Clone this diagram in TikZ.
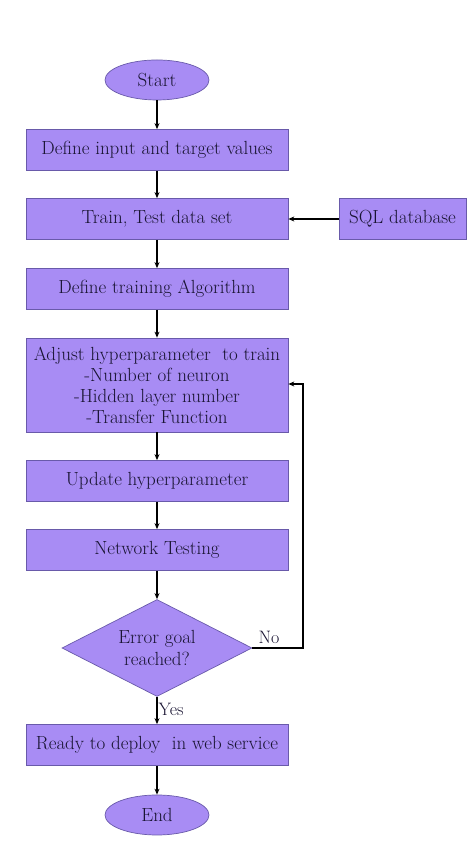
\documentclass[tikz,border=0pt]{standalone}
\usetikzlibrary{shapes.geometric,arrows.meta}
\definecolor{boxfill}{RGB}{168,140,244}
\definecolor{boxline}{RGB}{105,90,170}
\definecolor{txt}{RGB}{25,20,50}
\begin{document}
\begin{tikzpicture}[x=1pt,y=1pt,
  proc/.style={rectangle,draw=boxline,fill=boxfill,line width=0.7pt,minimum width=262pt,minimum height=41pt,font=\fontsize{19}{21}\selectfont,text=txt,align=center,inner sep=2pt},
  term/.style={ellipse,draw=boxline,fill=boxfill,line width=0.7pt,minimum width=104pt,minimum height=40pt,font=\fontsize{19}{21}\selectfont,text=txt,inner sep=0pt},
  dec/.style={diamond,draw=boxline,fill=boxfill,line width=0.7pt,minimum width=190pt,minimum height=97pt,aspect=2,font=\fontsize{19}{22}\selectfont,text=txt,align=center,inner sep=0pt},
  lbl/.style={font=\fontsize{18}{20}\selectfont,text=txt,inner sep=1pt},
  arr/.style={-{Stealth[length=6pt,width=5pt]},line width=1.4pt,black}]
\useasboundingbox (0,0) rectangle (474,842);
\node[term] (start) at (157,762) {Start};
\node[proc] (b1) at (157,692) {Define input and target values};
\node[proc] (b2) at (157,623) {Train, Test data set};
\node[proc,minimum width=127pt] (sql) at (402.5,623) {SQL database};
\node[proc] (b3) at (157,553) {Define training Algorithm};
\node[proc,minimum height=94pt] (b4) at (157,457) {Adjust hyperparameter\ \ to train\\-Number of neuron\\-Hidden layer number\\-Transfer Function};
\node[proc] (b5) at (157,361) {Update hyperparameter};
\node[proc] (b6) at (157,292) {Network Testing};
\node[dec] (d) at (157,194) {Error goal\\reached?};
\node[proc] (b7) at (157,97) {Ready to deploy\ \ in web service};
\node[term] (end) at (157,27) {End};
\coordinate (c1) at (303,194);
\coordinate (c2) at (303,458);
\draw[arr] (start) -- (b1);
\draw[arr] (b1) -- (b2);
\draw[arr] (sql) -- (b2);
\draw[arr] (b2) -- (b3);
\draw[arr] (b3) -- (b4);
\draw[arr] (b4) -- (b5);
\draw[arr] (b5) -- (b6);
\draw[arr] (b6) -- (d);
\draw[arr] (d) -- node[lbl,right,pos=0.45] {Yes} (b7);
\draw[arr] (b7) -- (end);
\draw[arr] (d.east) -- (c1) -- (c2) -- (b4.east |- c2);
\node[lbl,above] (no) at (269,197) {No};
\end{tikzpicture}
\end{document}
